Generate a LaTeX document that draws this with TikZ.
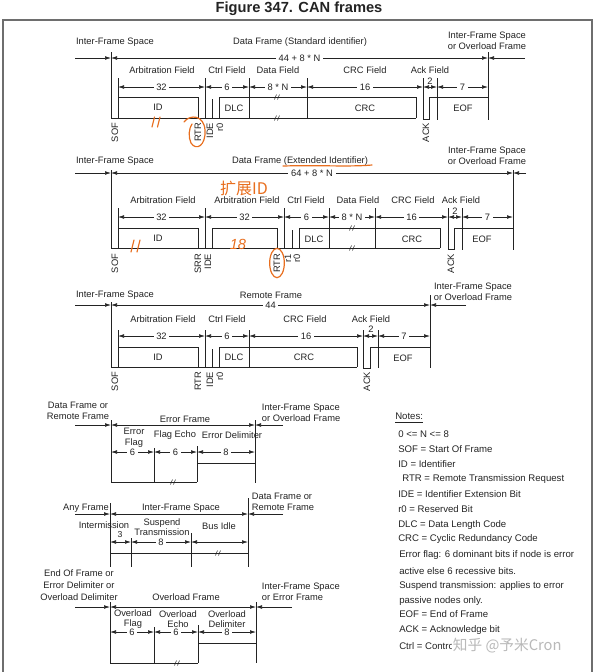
\documentclass[tikz,border=0pt]{standalone}
\usepackage{fontspec}
\setmainfont{Liberation Sans}
\newfontfamily\cjkfont{Noto Sans CJK SC}
\usetikzlibrary{arrows.meta}
\definecolor{ink}{RGB}{35,35,35}
\definecolor{hand}{RGB}{232,110,30}
\definecolor{frameg}{RGB}{110,110,110}
\tikzset{
  wave/.style={line width=0.7pt, draw=ink},
  bnd/.style={line width=0.6pt, draw=ink},
  dimarr/.style={line width=0.45pt, draw=ink, {Latex[length=4.5pt,width=2.8pt]}-{Latex[length=4.5pt,width=2.8pt]}},
  outarr/.style={line width=0.45pt, draw=ink, -{Latex[length=4.5pt,width=2.8pt]}},
  lbl/.style={font=\fontsize{7}{8.4}\selectfont, text=ink, inner sep=0.5pt},
  dlbl/.style={lbl, fill=white, inner xsep=2pt, inner ysep=0.5pt},
  vlbl/.style={lbl, rotate=90, anchor=east},
  notetxt/.style={font=\fontsize{7.2}{8.6}\selectfont, text=ink, anchor=west, inner sep=0pt},
  handpen/.style={draw=hand, line width=0.9pt, line cap=round},
  handtxt/.style={text=hand, inner sep=0pt},
}
\newcommand{\cdim}[4]{\draw[dimarr] (#1,#3) -- node[dlbl]{#4} (#2,#3);}
\newcommand{\cdimn}[3]{\draw[dimarr] (#1,#3) -- (#2,#3);}
\newcommand{\cbrk}[2]{\draw[line width=0.4pt, draw=ink] (#1-2.5,#2+2.5) -- (#1-0.5,#2-2.5) (#1+0.5,#2+2.5) -- (#1+2.5,#2-2.5);}
\begin{document}
\begin{tikzpicture}[x=0.75pt,y=-0.75pt]
\useasboundingbox (0,0) rectangle (600,672);
% title and frame
\node[font=\bfseries\fontsize{11}{13}\selectfont, text=ink] (title) at (299,9) {Figure 347. CAN frames};
\draw[frameg, line width=1pt] (3,672) -- (3,20) -- (592,20) -- (592,672);

% ================= Diagram 1: standard data frame
\node[lbl] (d1ifs) at (115,42) {Inter-Frame Space};
\node[lbl] (d1t) at (300,42) {Data Frame (Standard identifier)};
\node[lbl, align=center] (d1r) at (487,40.5) {Inter-Frame Space\\or Overload Frame};
\draw[bnd] (111,52) -- (111,118);
\draw[bnd] (488,52) -- (488,120);
\draw[outarr] (75,58) -- (111,58);
\draw[outarr] (525,58) -- (488,58);
\cdim{111}{488}{58}{44 + 8 * N}
\node[lbl] at (162,70) {Arbitration Field};
\node[lbl] at (227,70) {Ctrl Field};
\node[lbl] at (278,70) {Data Field};
\node[lbl] at (365,70) {CRC Field};
\node[lbl] at (430,70) {Ack Field};
\foreach \xx in {118,205,249,307} {\draw[bnd] (\xx,78) -- (\xx,118);}
\draw[bnd] (423,78) -- (423,119);
\draw[bnd] (437,78) -- (437,120);
\cdim{118}{205}{87}{32}
\cdim{205}{249}{87}{6}
\cdim{249}{307}{87}{8 * N}
\cdim{307}{423}{87}{16}
\cdimn{423}{437}{87}
\node[lbl] at (430,81) {2};
\cdim{437}{488}{87}{7}
\draw[wave] (118,118) -- (118,97) -- (198,97) -- (198,118);
\draw[wave] (111,118) -- (416,118);
\draw[wave] (212,99) -- (212,118);
\draw[wave] (219,118) -- (219,97) -- (416,97) -- (416,118);
\draw[wave] (423,119) -- (429,119) -- (429,97) -- (488,97);
\cbrk{277}{97}\cbrk{277}{118}
\node[lbl] at (158,107) {ID};
\node[lbl] at (234,108) {DLC};
\node[lbl] at (365,108) {CRC};
\node[lbl] at (463,108) {EOF};
\node[vlbl] at (115,122) {SOF};
\node[vlbl] at (198,122) {RTR};
\node[vlbl] at (210,122) {IDE};
\node[vlbl] at (220,122) {r0};
\node[vlbl] at (426,122) {ACK};
% hand annotations
\draw[handpen] (152,127) -- (154.5,117) (157.5,127) -- (160,117);
\draw[handpen] (184,122) .. controls (190,114) and (204,115) .. (205,130) .. controls (206,146) and (196,151) .. (191,143) .. controls (188,137) and (189,128) .. (192,124);

% ================= Diagram 2: extended data frame
\node[lbl] (d2ifs) at (115,161) {Inter-Frame Space};
\node[lbl] (d2t) at (300,161) {Data Frame (Extended Identifier)};
\node[lbl, align=center] (d2r) at (487,156) {Inter-Frame Space\\or Overload Frame};
\draw[bnd] (111,170) -- (111,248);
\draw[bnd] (513,170) -- (513,250);
\draw[outarr] (75,173) -- (111,173);
\draw[outarr] (526,173) -- (513,173);
\cdim{111}{513}{173}{64 + 8 * N}
\node[lbl] at (163,200) {Arbitration Field};
\node[lbl] at (247,200) {Arbitration Field};
\node[lbl] at (306,200) {Ctrl Field};
\node[lbl] at (358,200) {Data Field};
\node[lbl] at (413,200) {CRC Field};
\node[lbl] at (461,200) {Ack Field};
\foreach \xx in {118,205,284,329,375} {\draw[bnd] (\xx,208) -- (\xx,248);}
\draw[bnd] (448,208) -- (448,249);
\draw[bnd] (462,208) -- (462,250);
\cdim{118}{205}{217}{32}
\cdim{205}{284}{217}{32}
\cdim{284}{329}{217}{6}
\cdim{329}{375}{217}{8 * N}
\cdim{375}{448}{217}{16}
\cdimn{448}{462}{217}
\node[lbl] at (455,211) {2};
\cdim{462}{513}{217}{7}
\draw[wave] (118,248) -- (118,228) -- (198,228) -- (198,248);
\draw[wave] (212,248) -- (212,228) -- (277,228) -- (277,248);
\draw[wave] (292,230) -- (292,248);
\draw[wave] (299,248) -- (299,228) -- (440,228) -- (440,248);
\draw[wave] (111,248) -- (440,248);
\draw[wave] (448,249) -- (454,249) -- (454,228) -- (513,228);
\cbrk{352}{228}\cbrk{352}{248}
\node[lbl] at (158,238) {ID};
\node[lbl] at (314,239) {DLC};
\node[lbl] at (412,239) {CRC};
\node[lbl] at (482,239) {EOF};
\node[vlbl] at (115,253) {SOF};
\node[vlbl] at (198,253) {SRR};
\node[vlbl] at (208,253) {IDE};
\node[vlbl] at (277,253) {RTR};
\node[vlbl] at (288,253) {r1};
\node[vlbl] at (297,253) {r0};
\node[vlbl] at (451,253) {ACK};
% hand annotations
\draw[handpen] (283,166) .. controls (320,165) and (350,167) .. (372,165);
\node[handtxt, font=\cjkfont\fontsize{12}{12}\selectfont] at (244,188) {扩展ID};
\draw[handpen] (131,252) -- (134,240) (137,252) -- (140,240);
\node[handtxt, font=\itshape\fontsize{11}{11}\selectfont] at (238,244) {18};
\draw[handpen] (277,263) ellipse [x radius=5.5pt, y radius=11pt];

% ================= Diagram 3: remote frame
\node[lbl] (d3ifs) at (115,295) {Inter-Frame Space};
\node[lbl] (d3t) at (271,295) {Remote Frame};
\node[lbl, align=center] (d3r) at (473,291.5) {Inter-Frame Space\\or Overload Frame};
\draw[bnd] (111,302) -- (111,367);
\draw[bnd] (430,295) -- (430,368);
\draw[outarr] (75,305) -- (111,305);
\draw[outarr] (466,305) -- (430,305);
\cdim{111}{430}{305}{44}
\node[lbl] at (163,319) {Arbitration Field};
\node[lbl] at (227,319) {Ctrl Field};
\node[lbl] at (305,319) {CRC Field};
\node[lbl] at (371,319) {Ack Field};
\foreach \xx in {118,205,249} {\draw[bnd] (\xx,330) -- (\xx,367);}
\draw[bnd] (363,330) -- (363,368);
\draw[bnd] (378,330) -- (378,368);
\cdim{118}{205}{336}{32}
\cdim{205}{249}{336}{6}
\cdim{249}{363}{336}{16}
\cdimn{363}{378}{336}
\node[lbl] at (371,329) {2};
\cdim{378}{430}{336}{7}
\draw[wave] (118,367) -- (118,347) -- (198,347) -- (198,367);
\draw[wave] (212,349) -- (212,367);
\draw[wave] (219,367) -- (219,347) -- (357,347) -- (357,367);
\draw[wave] (111,367) -- (357,367);
\draw[wave] (363,368) -- (370,368) -- (370,347) -- (430,347);
\node[lbl] at (158,357) {ID};
\node[lbl] at (234,357) {DLC};
\node[lbl] at (304,357) {CRC};
\node[lbl] at (403,358) {EOF};
\node[vlbl] at (115,371) {SOF};
\node[vlbl] at (198,371) {RTR};
\node[vlbl] at (210,371) {IDE};
\node[vlbl] at (220,371) {r0};
\node[vlbl] at (367,371) {ACK};

% ================= Diagram 4: error frame
\node[lbl, align=center] (d4l) at (78,411) {Data Frame or\\Remote Frame};
\node[lbl] (d4t) at (185,419) {Error Frame};
\node[lbl, align=left, anchor=west] (d4r) at (261,412.5) {Inter-Frame Space\\or Overload Frame};
\draw[bnd] (111,420) -- (111,482);
\draw[bnd] (255,420) -- (255,483);
\draw[outarr] (75,425) -- (111,425);
\draw[outarr] (283,425) -- (255,425);
\cdimn{111}{255}{425}
\node[lbl, align=center, font=\fontsize{7}{8.2}\selectfont] at (134,437.5) {Error\\Flag};
\node[lbl] at (175,435) {Flag Echo};
\node[lbl] at (232,435) {Error Delimiter};
\cdim{111}{154}{452}{6}
\cdim{154}{197}{452}{6}
\cdim{197}{255}{452}{8}
\draw[bnd] (154,448) -- (154,482);
\draw[bnd] (197,446) -- (197,482);
\draw[wave] (111,482) -- (197,482);
\draw[wave] (197,463) -- (255,463);
\cbrk{173}{482}

% ================= Diagram 5: inter-frame space
\node[lbl] (d5l) at (86,508) {Any Frame};
\node[lbl] (d5t) at (181,508) {Inter-Frame Space};
\node[lbl, align=left, anchor=west] (d5r) at (251,501.5) {Data Frame or\\Remote Frame};
\draw[bnd] (110,503) -- (110,567);
\draw[bnd] (248,498) -- (248,567);
\draw[outarr] (75,514) -- (110,514);
\draw[outarr] (283,514) -- (248,514);
\cdimn{110}{248}{514}
\node[lbl] at (104,525) {Intermission};
\node[lbl, align=center, font=\fontsize{7}{7.6}\selectfont] at (162,527) {Suspend\\Transmission};
\node[lbl] at (219,526) {Bus Idle};
\node[lbl, font=\fontsize{6.5}{7}\selectfont] at (120,535) {3};
\cdimn{110}{131}{542}
\cdim{131}{191}{542}{8}
\cdimn{191}{248}{542}
\draw[bnd] (131,538) -- (131,567);
\draw[bnd] (191,533) -- (191,567);
\draw[wave] (110,553) -- (248,553);
\cbrk{218}{553}

% ================= Diagram 6: overload frame
\node[lbl, align=center, font=\fontsize{7}{8.8}\selectfont] (d6l) at (79,585) {End Of Frame or\\Error Delimiter or\\Overload Delimiter};
\node[lbl] (d6t) at (186,597) {Overload Frame};
\node[lbl, align=left, anchor=west] (d6r) at (261,591.5) {Inter-Frame Space\\or Error Frame};
\draw[bnd] (110,602) -- (110,663);
\draw[bnd] (256,602) -- (256,663);
\draw[outarr] (75,607) -- (110,607);
\draw[outarr] (292,607) -- (256,607);
\cdimn{110}{256}{607}
\node[lbl, align=center, font=\fontsize{7}{7.5}\selectfont] at (133,619) {Overload\\Flag};
\node[lbl, align=center, font=\fontsize{7}{7.5}\selectfont] at (178,619) {Overload\\Echo};
\node[lbl, align=center, font=\fontsize{7}{7.5}\selectfont] at (227,619) {Overload\\Delimiter};
\cdim{110}{154}{632}{6}
\cdim{154}{198}{632}{6}
\cdim{198}{256}{632}{8}
\draw[bnd] (154,627) -- (154,663);
\draw[bnd] (198,625) -- (198,663);
\draw[wave] (110,663) -- (198,663);
\draw[wave] (198,643) -- (256,643);
\cbrk{177}{663}

% ================= Notes
\node[notetxt] at (395,418) {\underline{Notes:}};
\node[notetxt] at (398,434) {0 <= N <= 8};
\node[notetxt] at (398,449) {SOF = Start Of Frame};
\node[notetxt] at (398,464) {ID = Identifier};
\node[notetxt] at (402,479) {RTR = Remote Transmission Request};
\node[notetxt] at (398,494) {IDE = Identifier Extension Bit};
\node[notetxt] at (398,509) {r0 = Reserved Bit};
\node[notetxt] at (398,525) {DLC = Data Length Code};
\node[notetxt] at (398,539) {CRC = Cyclic Redundancy Code};
\node[notetxt] at (399,555) {Error flag: 6 dominant bits if node is error};
\node[notetxt] at (399,571) {active else 6 recessive bits.};
\node[notetxt] at (399,586) {Suspend transmission: applies to error};
\node[notetxt] at (399,601) {passive nodes only.};
\node[notetxt] at (399,614) {EOF = End of Frame};
\node[notetxt] at (399,630) {ACK = Acknowledge bit};
\node[notetxt] at (399,646) {Ctrl = Control};
\node[anchor=west, text=gray!55, fill=white, inner sep=0.5pt, font=\cjkfont\fontsize{11}{11}\selectfont] (wm) at (452,646) {知乎 @予米Cron};
\end{tikzpicture}
\end{document}
